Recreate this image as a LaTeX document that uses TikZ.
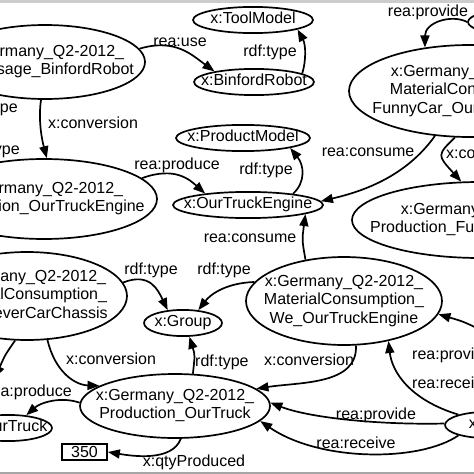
\documentclass[tikz,border=0pt]{standalone}
\usepackage{fontspec}
\setmainfont{Liberation Sans}
\usetikzlibrary{shapes.geometric,arrows.meta}
\newcommand{\ctxt}[1]{\makebox[0pt]{\begin{tabular}{@{}c@{}}#1\end{tabular}}}
\begin{document}
\begin{tikzpicture}[x=1pt,y=-1pt,
  every node/.style={font=\fontsize{16}{18.5}\selectfont},
  ell/.style={draw, ellipse, line width=1.7pt, inner sep=0pt},
  box/.style={draw, rectangle, line width=1.7pt, inner sep=0pt},
  lbl/.style={inner sep=0pt},
  edge/.style={draw, line width=1.7pt, -{Triangle[length=12pt,width=9pt]}}]
\useasboundingbox (0,0) rectangle (474,474);
\fill[white] (0,0) rectangle (474,474);
\clip (0,0) rectangle (474,474);
\fill[gray!40] (0,0) rectangle (474,3);
\fill[gray!70] (0,471.5) rectangle (474,474);

% nodes
\node[ell, minimum width=120, minimum height=22] (tool) at (253,20) {\ctxt{x:ToolModel}};
\node[ell, minimum width=120, minimum height=23] (binford) at (254,82) {\ctxt{x:BinfordRobot}};
\node[ell, minimum width=200, minimum height=74] (usage) at (45,62) {\ctxt{x:Germany\_Q2-2012\_\\ToolUsage\_BinfordRobot}};
\node[ell, minimum width=134, minimum height=24] (prodmodel) at (243,138) {\ctxt{x:ProductModel}};
\node[ell, minimum width=150, minimum height=24] (ote) at (248,205) {\ctxt{x:OurTruckEngine}};
\node[ell, minimum width=226, minimum height=80] (prodote) at (44,199) {\ctxt{x:Germany\_Q2-2012\_\\Production\_OurTruckEngine}};
\node[ell, minimum width=242, minimum height=92] (funmc) at (470,91) {\ctxt{x:Germany\_Q2-2012\_\\MaterialConsumption\_\\FunnyCar\_OurTruckEngine}};
\node[ell, minimum width=256, minimum height=76] (prodfun) at (480,220) {\ctxt{x:Germany\_Q2-2012\_\\\hspace*{-64pt}Production\_FunnyCar}};
\node[ell, minimum width=200, minimum height=88] (lever) at (27,296) {\ctxt{x:Germany\_Q2-2012\_\\MaterialConsumption\_\\We\_CleverCarChassis}};
\node[ell, minimum width=78, minimum height=24] (group) at (183,323) {\ctxt{x:Group}};
\node[ell, minimum width=196, minimum height=88] (weote) at (344,301) {\ctxt{x:Germany\_Q2-2012\_\\MaterialConsumption\_\\We\_OurTruckEngine}};
\node[ell, minimum width=190, minimum height=64] (prodot) at (175,406) {\ctxt{x:Germany\_Q2-2012\_\\Production\_OurTruck}};
\node[ell, minimum width=88, minimum height=25] (ourtruck) at (8,428) {\ctxt{x:OurTruck}};
\node[box, minimum width=45, minimum height=16] (num) at (84.5,452) {350};
\node[ell, minimum width=84, minimum height=26] (we) at (487,425) {\ctxt{x:We}};
\node[ell, minimum width=84, minimum height=24] (tr) at (510,22) {};
\coordinate (offr) at (490,335);
\coordinate (offl) at (-5,378);

% edges
\draw[edge] (usage.8) .. controls (175,38) and (192,55) .. (binford.165);
\draw[edge] (binford.10) .. controls (306,62) and (306,45) .. (tool.-12);
\draw[edge] (usage.-96) .. controls (38,120) and (42,140) .. (prodote.86);
\draw[edge] (prodote.12) .. controls (175,166) and (190,180) .. (ote.165);
\draw[edge] (ote.14) .. controls (306,182) and (304,165) .. (prodmodel.-12);
\draw[edge] (funmc.-128) .. controls (405,178) and (360,192) .. (ote.3);
\draw[edge] (funmc.-108) .. controls (437,155) .. (prodfun.116);
\draw[edge] (tr.west) .. controls (452,14) and (425,22) .. (funmc.136);
\draw[edge] (lever.8) .. controls (150,272) and (158,290) .. (group.140);
\draw[edge] (weote.168) .. controls (225,283) and (210,295) .. (group.40);
\draw[edge] (weote.133) .. controls (302,240) .. (ote.-9);
\draw[edge] (lever.-65) .. controls (55,372) and (75,385) .. (prodot.165);
\draw[edge] (prodot.178) .. controls (60,396) and (40,403) .. (ourtruck.35);
\draw[edge] (prodot.61) .. controls (195,355) .. (group.-65);
\draw[edge] (weote.-75) .. controls (358,385) and (300,382) .. (prodot.12);
\draw[edge] (we.178) .. controls (380,425) and (310,418) .. (prodot.2);
\draw[edge] (we.-160) .. controls (420,462) and (320,462) .. (prodot.-10);
\draw[edge] (we.160) .. controls (410,400) and (392,372) .. (weote.-42);
\draw[edge] (offr) .. controls (465,322) .. (weote.-8);
\draw[edge] (prodot.-80) .. controls (172,462) and (132,456) .. (num.east);
\draw[edge] (lever.-105) .. controls (5,355) .. (offl);

% labels
\node[lbl] (l1) at (180,42) {rea:use};
\node[lbl] (l2) at (270,52) {rdf:type};
\node[lbl] (l3) at (93,123) {x:conversion};
\node[lbl] (l4) at (-9,108) {rdf:type};
\node[lbl] (l5) at (-7,150) {rdf:type};
\node[lbl] (l6) at (177,165) {rea:produce};
\node[lbl] (l7) at (266,170) {rdf:type};
\node[lbl] (l8) at (428,12) {rea:provide};
\node[lbl] (l9) at (368,152) {rea:consume};
\node[lbl, anchor=west] (l10) at (446,153) {x:conversion};
\node[lbl] (l11) at (250,238) {rea:consume};
\node[lbl] (l12) at (151,270) {rdf:type};
\node[lbl] (l13) at (224,270) {rdf:type};
\node[lbl] (l14) at (111,359) {x:conversion};
\node[lbl, anchor=west] (l15) at (195,362) {rdf:type};
\node[lbl] (l16) at (309,360) {x:conversion};
\node[lbl, anchor=west] (l17) at (412,355) {rea:provide};
\node[lbl, anchor=west] (l18) at (412,383) {rea:receive};
\node[lbl] (l19) at (29,392) {rea:produce};
\node[lbl] (l20) at (376,415) {rea:provide};
\node[lbl] (l21) at (356,443) {rea:receive};
\node[lbl] (l22) at (194,462) {x:qtyProduced};
\end{tikzpicture}
\end{document}
